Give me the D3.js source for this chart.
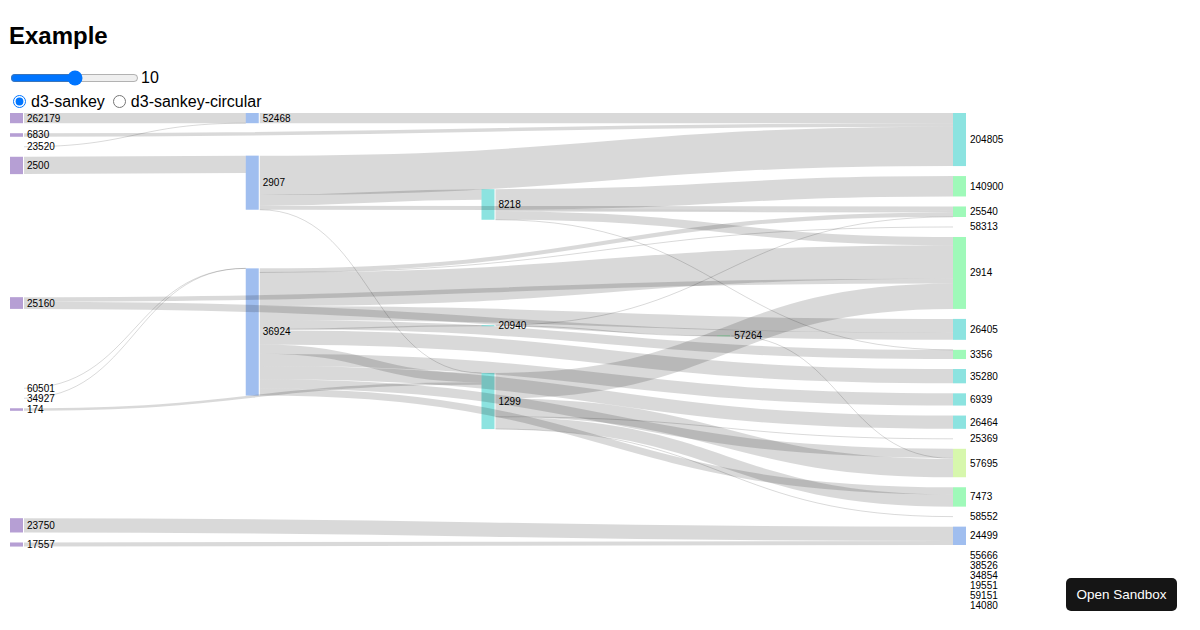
<!DOCTYPE html>
<html>
<head>
<meta charset="utf-8">
<script src="https://cdn.jsdelivr.net/npm/d3@7"></script>
<style>
  body { margin: 8px; font-family: "Liberation Sans", Arial, sans-serif; background: #fff; }
  h2 { font-size: 24px; font-weight: bold; margin: 0; position: absolute; left: 9px; top: 22px; }
  .row1 { position: absolute; left: 8px; top: 68px; font-size: 16px; line-height: 20px; }
  .row1 input { margin: 2px; width: 129px; vertical-align: -3px; }
  .row2 { position: absolute; left: 8px; top: 92px; font-size: 16px; line-height: 18px; }
  .row2 input { margin: 3px 5px 0 5px; vertical-align: -1px; }
  .row2 label + label input { margin-left: 8px; }
  svg { position: absolute; left: 0; top: 0; }
  .btn { position: absolute; left: 1066px; top: 578px; width: 111px; height: 33px; background: #151515;
         color: #fff; border-radius: 5px; font: 13.5px "Liberation Sans", Arial, sans-serif;
         display: flex; align-items: center; justify-content: center; }
</style>
</head>
<body>
<h2>Example</h2>
<div class="row1"><input type="range" min="0" max="20" value="10"><span>10</span></div>
<div class="row2"><label><input type="radio" name="kind" checked>d3-sankey</label><label><input type="radio" name="kind">d3-sankey-circular</label></div>
<svg id="chart" width="1200" height="630"></svg>
<div class="btn">Open Sandbox</div>
<script>
// ---------------- data ----------------
const nodeNames = [
  "262179", "6830", "23520", "2500", "25160", "60501", "34927", "174", "23750", "17557",
  "52468", "2907", "36924",
  "8218", "20940", "1299",
  "57264",
  "204805", "140900", "25540", "58313", "2914", "26405", "3356", "35280", "6939", "26464",
  "25369", "57695", "7473", "58552", "24499",
  "55666", "38526", "34854", "19551", "59151", "14080"
];
const linkSources = [
  "262179", "23520", "6830", "2500", "25160", "25160", "60501", "34927", "174", "23750", "17557",
  "52468", "2907", "2907", "2907", "2907",
  "36924", "36924", "36924", "36924", "36924", "36924", "36924", "36924", "36924", "36924", "36924", "36924",
  "8218", "8218", "8218", "8218",
  "20940", "20940",
  "1299", "1299", "1299", "1299", "1299",
  "57264"
];
const linkTargets = [
  "52468", "52468", "204805", "2907", "26405", "2914", "36924", "36924", "1299", "24499", "24499",
  "204805", "204805", "8218", "25540", "1299",
  "25540", "58313", "2914", "26405", "3356", "20940", "35280", "1299", "6939", "26464", "57695", "7473",
  "140900", "25540", "2914", "3356",
  "57264", "25540",
  "2914", "57695", "7473", "25369", "58552",
  "57695"
];
const linkValues = [
  10, 0, 3.5, 17, 7, 4.5, 0, 0, 2.5, 14, 4,
  10, 38.5, 10.5, 4, 0,
  4, 0, 33, 13.5, 9, 1.15, 14, 9, 12, 13, 9, 7,
  20, 2, 8, 0,
  0.85, 0.3,
  25, 18, 12, 0, 0,
  0.85
];

// ---------------- layout settings ----------------
const nodeWidth = 14, nodePadding = 10, iterations = 6;
const extent = [[10, 113], [967, 605]];

// ---------------- sankey layout (d3-sankey algorithm, justify, nodeSort(null)) ----------------
function sankeyLayout(names, srcs, tgts, vals) {
  const [[x0, y0], [x1, y1]] = extent;
  const dx = nodeWidth;
  let py = nodePadding;
  const nodes = names.map((name, index) => ({ name, index, sourceLinks: [], targetLinks: [] }));
  const byName = new Map(nodes.map(n => [n.name, n]));
  const links = srcs.map((s, i) => ({ index: i, source: byName.get(s), target: byName.get(tgts[i]), value: vals[i] }));
  for (const l of links) { l.source.sourceLinks.push(l); l.target.targetLinks.push(l); }
  for (const n of nodes) n.value = Math.max(d3.sum(n.sourceLinks, l => l.value), d3.sum(n.targetLinks, l => l.value));

  let current = new Set(nodes), next = new Set(), x = 0;
  while (current.size) {
    for (const n of current) { n.depth = x; for (const { target } of n.sourceLinks) next.add(target); }
    if (++x > nodes.length) throw new Error("circular link");
    current = next; next = new Set();
  }

  const nCols = d3.max(nodes, d => d.depth) + 1;
  const kx = (x1 - x0 - dx) / (nCols - 1);
  const columns = Array.from({ length: nCols }, () => []);
  for (const n of nodes) {
    const i = Math.max(0, Math.min(nCols - 1, Math.floor(n.sourceLinks.length ? n.depth : nCols - 1)));
    n.layer = i; n.x0 = x0 + i * kx; n.x1 = n.x0 + dx;
    columns[i].push(n);
  }
  py = Math.min(py, (y1 - y0) / (d3.max(columns, c => c.length) - 1));

  const ascBreadth = (a, b) => a.y0 - b.y0;
  const ascSource = (a, b) => ascBreadth(a.source, b.source) || a.index - b.index;
  const ascTarget = (a, b) => ascBreadth(a.target, b.target) || a.index - b.index;
  function reorderLinks(ns) { for (const { sourceLinks, targetLinks } of ns) { sourceLinks.sort(ascTarget); targetLinks.sort(ascSource); } }
  function reorderNodeLinks({ sourceLinks, targetLinks }) {
    for (const { source: { sourceLinks: sl } } of targetLinks) sl.sort(ascTarget);
    for (const { target: { targetLinks: tl } } of sourceLinks) tl.sort(ascSource);
  }
  function targetTop(source, target) {
    let y = source.y0 - (source.sourceLinks.length - 1) * py / 2;
    for (const { target: node, width } of source.sourceLinks) { if (node === target) break; y += width + py; }
    for (const { source: node, width } of target.targetLinks) { if (node === source) break; y -= width; }
    return y;
  }
  function sourceTop(source, target) {
    let y = target.y0 - (target.targetLinks.length - 1) * py / 2;
    for (const { source: node, width } of target.targetLinks) { if (node === source) break; y += width + py; }
    for (const { target: node, width } of source.sourceLinks) { if (node === target) break; y -= width; }
    return y;
  }
  function topToBottom(ns, y, i, alpha) {
    for (; i < ns.length; ++i) { const n = ns[i]; const d = (y - n.y0) * alpha; if (d > 1e-6) { n.y0 += d; n.y1 += d; } y = n.y1 + py; }
  }
  function bottomToTop(ns, y, i, alpha) {
    for (; i >= 0; --i) { const n = ns[i]; const d = (n.y1 - y) * alpha; if (d > 1e-6) { n.y0 -= d; n.y1 -= d; } y = n.y0 - py; }
  }
  function resolveCollisions(ns, alpha) {
    const i = ns.length >> 1; const s = ns[i];
    bottomToTop(ns, s.y0 - py, i - 1, alpha);
    topToBottom(ns, s.y1 + py, i + 1, alpha);
    bottomToTop(ns, y1, ns.length - 1, alpha);
    topToBottom(ns, y0, 0, alpha);
  }

  const ky = d3.min(columns, c => (y1 - y0 - (c.length - 1) * py) / d3.sum(c, d => d.value));
  for (const col of columns) {
    let y = y0;
    for (const n of col) {
      n.y0 = y; n.y1 = y + n.value * ky; y = n.y1 + py;
      for (const l of n.sourceLinks) l.width = l.value * ky;
    }
    y = (y1 - y + py) / (col.length + 1);
    col.forEach((n, i) => { n.y0 += y * (i + 1); n.y1 += y * (i + 1); });
    reorderLinks(col);
  }
  for (let it = 0; it < iterations; ++it) {
    const alpha = Math.pow(0.99, it);
    const beta = Math.max(1 - alpha, (it + 1) / iterations);
    for (let i = columns.length - 2; i >= 0; --i) {
      const col = columns[i];
      for (const source of col) {
        let y = 0, w = 0;
        for (const { target, value } of source.sourceLinks) {
          const v = value * (target.layer - source.layer);
          y += sourceTop(source, target) * v; w += v;
        }
        if (!(w > 0)) continue;
        const d = (y / w - source.y0) * alpha;
        source.y0 += d; source.y1 += d; reorderNodeLinks(source);
      }
      resolveCollisions(col, beta);
    }
    for (let i = 1; i < columns.length; ++i) {
      const col = columns[i];
      for (const target of col) {
        let y = 0, w = 0;
        for (const { source, value } of target.targetLinks) {
          const v = value * (target.layer - source.layer);
          y += targetTop(source, target) * v; w += v;
        }
        if (!(w > 0)) continue;
        const d = (y / w - target.y0) * alpha;
        target.y0 += d; target.y1 += d; reorderNodeLinks(target);
      }
      resolveCollisions(col, beta);
    }
  }
  for (const n of nodes) {
    let a = n.y0, b = n.y0;
    for (const l of n.sourceLinks) { l.y0 = a + l.width / 2; a += l.width; }
    for (const l of n.targetLinks) { l.y1 = b + l.width / 2; b += l.width; }
  }
  return { nodes, links };
}

const { nodes, links } = sankeyLayout(nodeNames, linkSources, linkTargets, linkValues);

// ---------------- draw ----------------
const svg = d3.select("#chart");
const color = d3.scaleSequential(d3.interpolateCool).domain([0, d3.max(nodes, d => d.depth)]);

svg.append("g")
  .selectAll("rect")
  .data(nodes)
  .join("rect")
  .attr("x", d => d.x0)
  .attr("y", d => d.y0)
  .attr("width", d => d.x1 - d.x0 - 1)
  .attr("height", d => Math.max(0, d.y1 - d.y0))
  .attr("fill", d => color(d.depth))
  .attr("fill-opacity", 0.5);

const linkPath = d3.linkHorizontal()
  .source(d => [d.source.x1, d.y0])
  .target(d => [d.target.x0, d.y1]);

svg.append("g")
  .attr("fill", "none")
  .attr("stroke", "#000")
  .attr("stroke-opacity", 0.15)
  .selectAll("path")
  .data(links)
  .join("path")
  .attr("d", linkPath)
  .attr("stroke-width", d => Math.max(1, d.width));

svg.append("g")
  .style("font", '10px "Liberation Sans", Arial, sans-serif')
  .selectAll("text")
  .data(nodes)
  .join("text")
  .attr("x", d => d.x1 + 3)
  .attr("y", d => (d.y0 + d.y1) / 2)
  .attr("dy", "0.35em")
  .attr("fill", "#000")
  .text(d => d.name);
</script>
</body>
</html>
